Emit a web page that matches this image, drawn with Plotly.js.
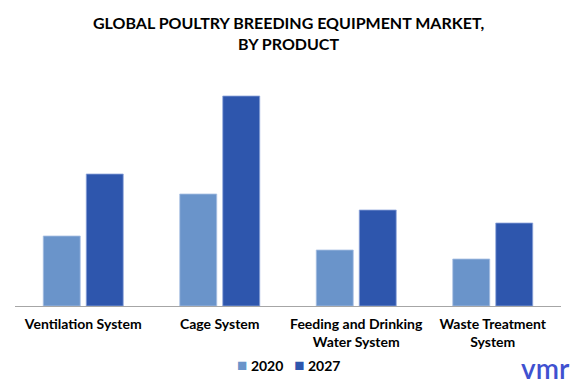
<!DOCTYPE html>
<html>
<head>
<meta charset="utf-8">
<script src="https://cdn.plot.ly/plotly-3.0.1.min.js"></script>
<style>html,body{margin:0;padding:0;background:#fff;}#chart{width:576px;height:385px;}</style>
</head>
<body>
<div id="chart"></div>
<script>
const categories = ["Ventilation System", "Cage System", "Feeding and Drinking<br>Water System", "Waste Treatment<br>System"];
const seriesNames = ["2020", "2027"];
const values2020 = [70, 112, 56, 47];
const values2027 = [132, 210, 96, 83];
const titleText = "GLOBAL POULTRY BREEDING EQUIPMENT MARKET,<br>BY PRODUCT";
const colors = ["#6a94ca", "#2e56ad"];

const FONT = "Lato, 'Open Sans', sans-serif";
const PT = 80, PB = 306, PH = PB - PT;   // plot area in pixels
const py = (pix) => (PB - pix) / PH;     // pixel row -> paper y

const traces = [
  {type: "bar", name: seriesNames[0], x: categories, y: values2020,
   marker: {color: colors[0], line: {color: "#a9c0e3", width: 0.8}}},
  {type: "bar", name: seriesNames[1], x: categories, y: values2027,
   marker: {color: colors[1], line: {color: "#8fa6da", width: 0.8}}}
];

const legendText = seriesNames.map((n, i) =>
  '<span style="color:' + colors[i] + ';font-size:17px">■</span> <b>' + n + '</b>').join('   ');

const layout = {
  width: 576, height: 385,
  paper_bgcolor: "#ffffff", plot_bgcolor: "#ffffff",
  margin: {l: 15, r: 15, t: PT, b: 385 - PB, autoexpand: false},
  font: {family: FONT, color: "#000000"},
  barmode: "group", bargap: 0.37, bargroupgap: 0.14,
  xaxis: {showline: true, linecolor: "#a6a6a6", linewidth: 1, ticks: "", showgrid: false, automargin: false,
          tickfont: {family: FONT, size: 14, color: "#000000", weight: "bold"}, ticklabelstandoff: 5},
  yaxis: {visible: false, range: [0, PH], showgrid: false, zeroline: false, automargin: false},
  showlegend: false,
  annotations: [
    {text: "<b>" + titleText + "</b>", xref: "paper", yref: "paper", x: 0.5, y: py(11),
     xanchor: "center", yanchor: "top", showarrow: false, align: "center",
     font: {family: FONT, size: 16, color: "#000000"}},
    {text: legendText, xref: "paper", yref: "paper", x: 0.5, y: py(364), xanchor: "center", yanchor: "middle",
     showarrow: false, font: {family: FONT, size: 14, color: "#000000"}},
    {text: "vmr", xref: "paper", yref: "paper", x: (572 - 15) / 546, y: py(368), xanchor: "right", yanchor: "middle",
     showarrow: false, font: {family: FONT, size: 28, color: "#3f51d0", weight: 600}}
  ]
};
Plotly.newPlot("chart", traces, layout, {staticPlot: true, displayModeBar: false});
</script>
</body>
</html>
